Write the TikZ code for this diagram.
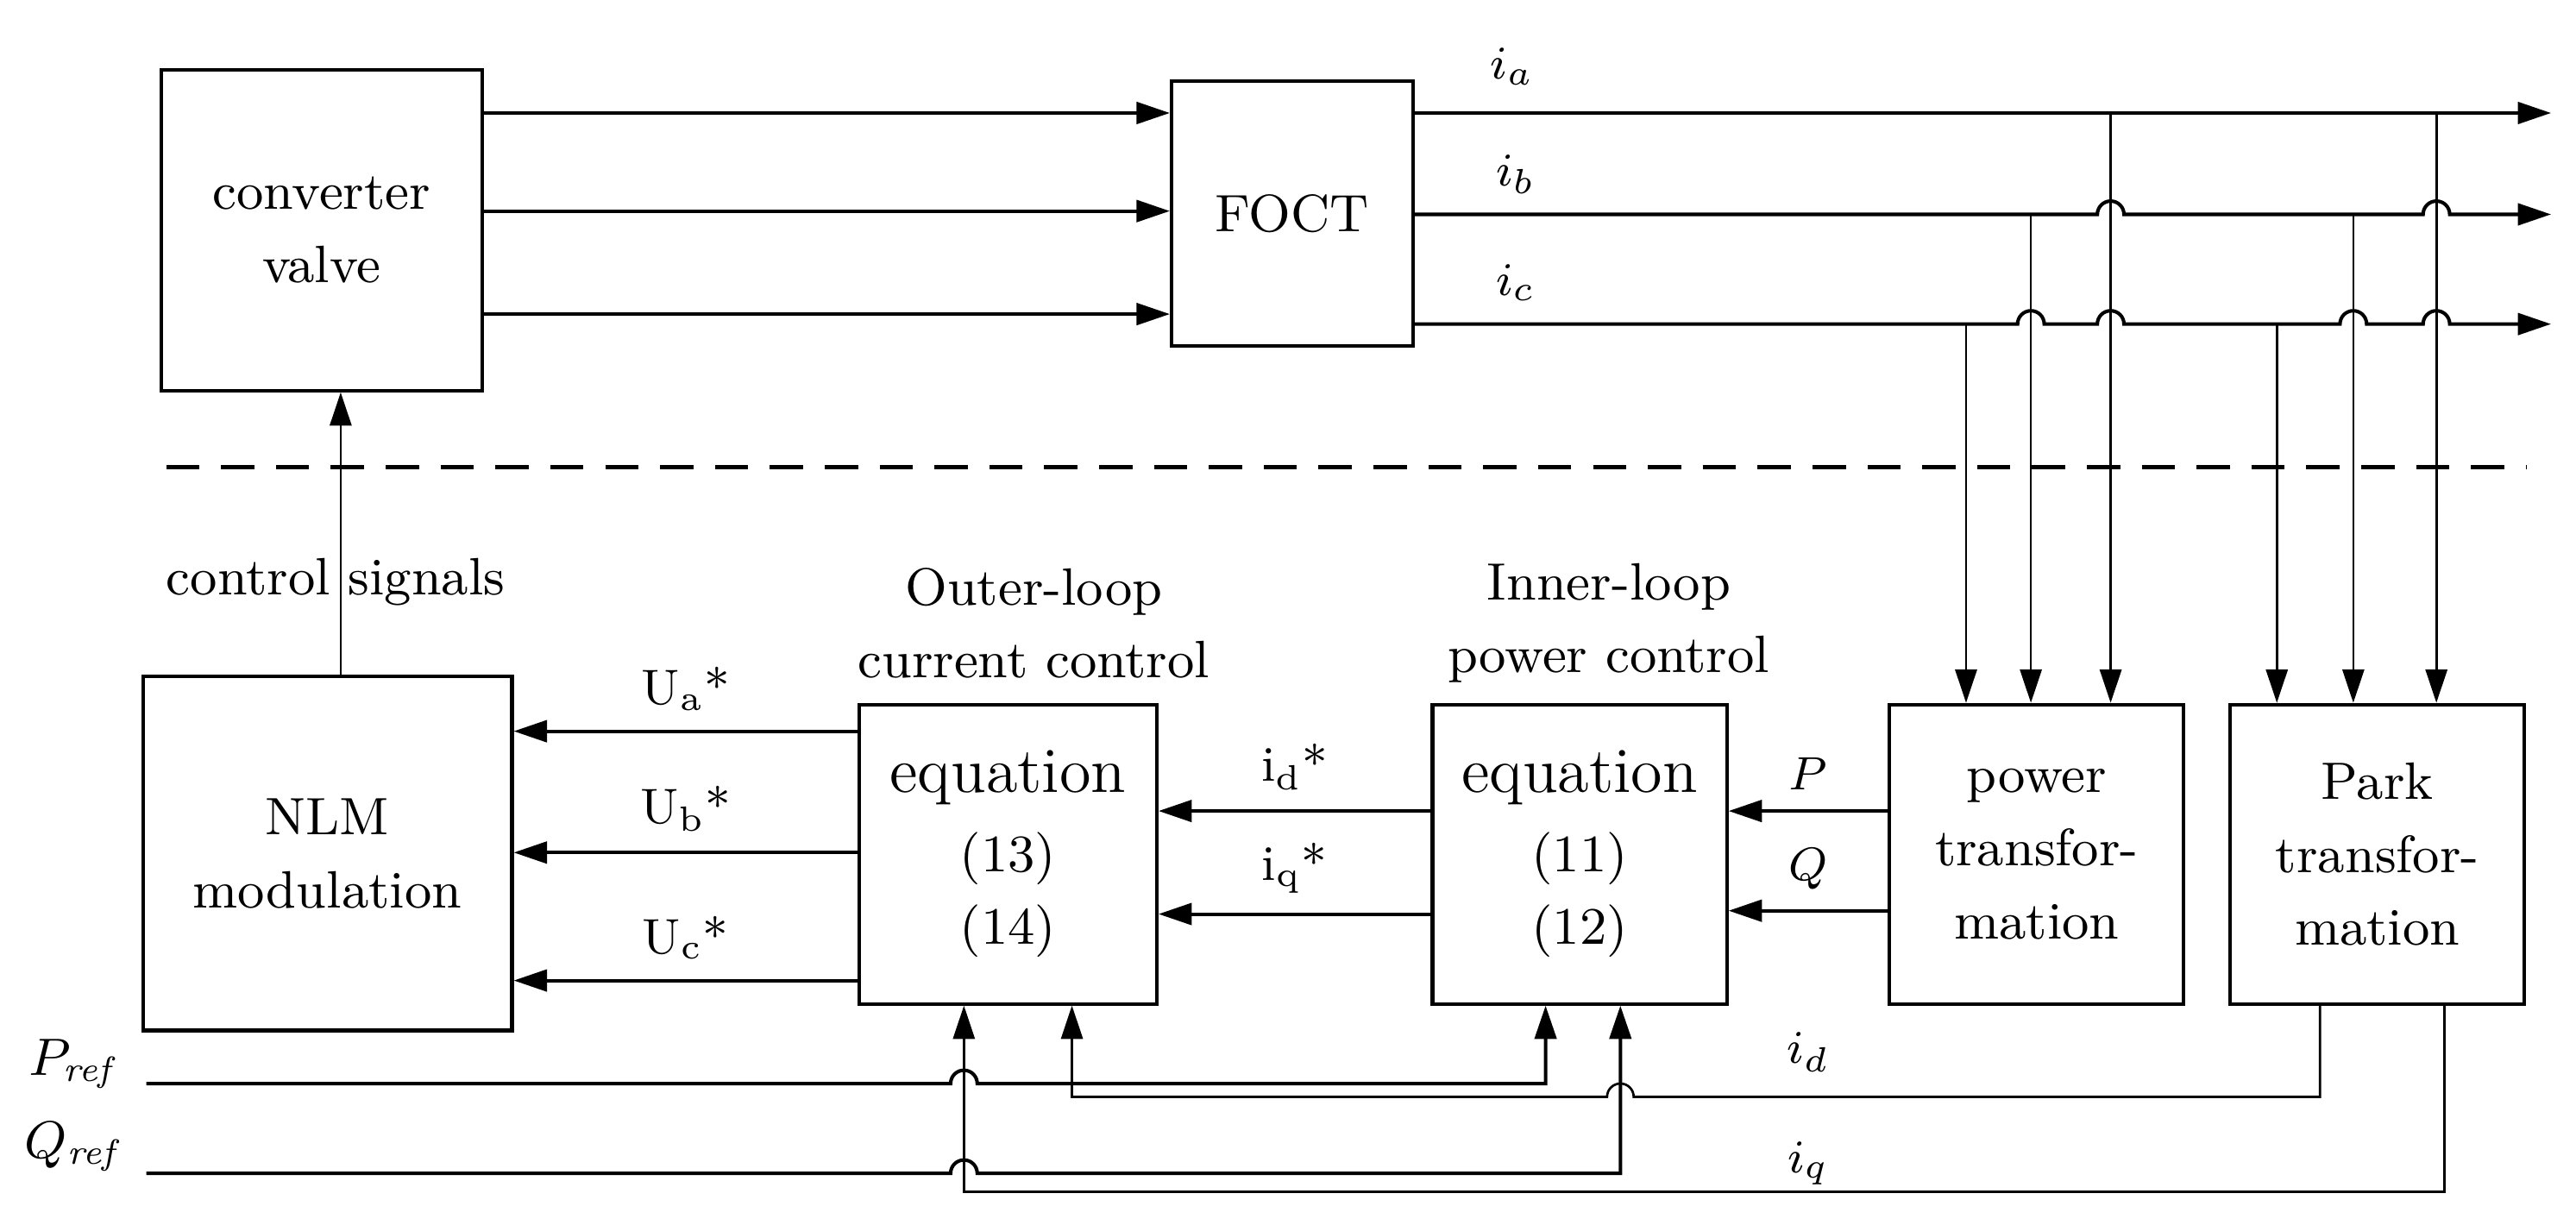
\documentclass[tikz,border=0pt]{standalone}
\usetikzlibrary{arrows.meta}
\begin{document}
\begin{tikzpicture}[x=0.01cm,y=-0.01cm,
  box/.style={draw,rectangle,inner sep=0pt,align=center,font=\fontsize{9}{12.5}\selectfont},
  arr/.style={-{Triangle[length=2mm,width=1.3mm]}},
  lab/.style={font=\fontsize{9}{12.5}\selectfont,align=center},
  sm/.style={font=\fontsize{8.5}{10}\selectfont},
  jmp/.style={radius=0.08cm},
  every path/.style={line width=0.6pt}]
\useasboundingbox (0,0) rectangle (1550,737);
% boxes
\node[box,minimum width=1.93cm,minimum height=1.93cm] (cv) at (193.5,138.5) {converter\\valve};
\node[box,minimum width=1.45cm,minimum height=1.59cm] (foct) at (777.5,128.5) {FOCT};
\node[box,minimum width=2.22cm,minimum height=2.13cm] (nlm) at (197,513.5) {NLM\\modulation};
\node[box,minimum width=1.79cm,minimum height=1.8cm] (outer) at (606.5,514)
  {{\fontsize{11}{14}\selectfont equation}\\[1pt]{\small (13)}\\{\small (14)}};
\node[box,minimum width=1.77cm,minimum height=1.8cm] (inner) at (950.5,514)
  {{\fontsize{11}{14}\selectfont equation}\\[1pt]{\small (11)}\\{\small (12)}};
\node[box,minimum width=1.77cm,minimum height=1.8cm] (pw) at (1225.5,514) {power\\transfor-\\mation};
\node[box,minimum width=1.77cm,minimum height=1.8cm] (park) at (1430.5,514) {Park\\transfor-\\mation};
\node[lab] (ol) at (622,375) {Outer-loop\\current control};
\node[lab] (il) at (968,375) {Inner-loop\\power control};
% converter to FOCT
\foreach \y in {68,127,189} \draw[arr] (cv.east|-0,\y) -- (foct.west|-0,\y);
% phase currents
\draw[arr] (foct.east|-0,68) -- (1535,68);
\draw[arr] (foct.east|-0,129) -- (1262,129) arc[start angle=180,end angle=0,jmp]
  -- (1458,129) arc[start angle=180,end angle=0,jmp] -- (1535,129);
\draw[arr] (foct.east|-0,195) -- (1214,195) arc[start angle=180,end angle=0,jmp]
  -- (1262,195) arc[start angle=180,end angle=0,jmp]
  -- (1408,195) arc[start angle=180,end angle=0,jmp]
  -- (1458,195) arc[start angle=180,end angle=0,jmp] -- (1535,195);
\node[sm] (ia) at (910,40) {$i_a$};
\node[sm] (ib) at (912,105) {$i_b$};
\node[sm] (ic) at (912,170) {$i_c$};
% drops
\draw[arr,line width=0.4pt] (1183,195) -- (pw.north-|1183,0);
\draw[arr,line width=0.4pt] (1222,129) -- (pw.north-|1222,0);
\draw[arr,line width=0.4pt] (1270,68) -- (pw.north-|1270,0);
\draw[arr,line width=0.4pt] (1370,195) -- (park.north-|1370,0);
\draw[arr,line width=0.4pt] (1416,129) -- (park.north-|1416,0);
\draw[arr,line width=0.4pt] (1466,68) -- (park.north-|1466,0);
% separator
\draw[dashed,dash pattern=on 0.2cm off 0.13cm,line width=0.8pt] (100,281) -- (1520,281);
% control signals
\draw[arr,line width=0.4pt] (nlm.north-|205,0) -- (cv.south-|205,0);
\node[lab] (cs) at (202,350) {control signals};
% outer to NLM
\draw[arr] (outer.west|-0,440) -- node[above,sm] {U$_\mathrm{a}$*} (nlm.east|-0,440);
\draw[arr] (outer.west|-0,513) -- node[above,sm] {U$_\mathrm{b}$*} (nlm.east|-0,513);
\draw[arr] (outer.west|-0,590) -- node[above,sm] {U$_\mathrm{c}$*} (nlm.east|-0,590);
% inner to outer
\draw[arr] (inner.west|-0,488) -- node[above,sm] {i$_\mathrm{d}$*} (outer.east|-0,488);
\draw[arr] (inner.west|-0,550) -- node[above,sm] {i$_\mathrm{q}$*} (outer.east|-0,550);
% power to inner
\draw[arr] (pw.west|-0,488) -- node[above,sm] {$P$} (inner.east|-0,488);
\draw[arr] (pw.west|-0,548) -- node[above,sm] {$Q$} (inner.east|-0,548);
% references and feedback
\node[lab] (pref) at (45,640) {$P_{\mathit{ref}}$};
\node[lab] (qref) at (45,690) {$Q_{\mathit{ref}}$};
\draw[arr] (88,652) -- (572,652) arc[start angle=180,end angle=0,jmp]
  -- (930,652) -- (inner.south-|930,0);
\draw[arr] (88,706) -- (572,706) arc[start angle=180,end angle=0,jmp]
  -- (975,706) -- (inner.south-|975,0);
\draw[arr,line width=0.4pt] (park.south-|1396,0) -- (1396,660) -- (983,660)
  arc[start angle=0,end angle=180,jmp] -- (645,660) -- (outer.south-|645,0);
\draw[arr,line width=0.4pt] (park.south-|1471,0) -- (1471,717) -- (580,717) -- (outer.south-|580,0);
\node[sm] (id) at (1088,633) {$i_d$};
\node[sm] (iq) at (1088,700) {$i_q$};
\end{tikzpicture}
\end{document}
